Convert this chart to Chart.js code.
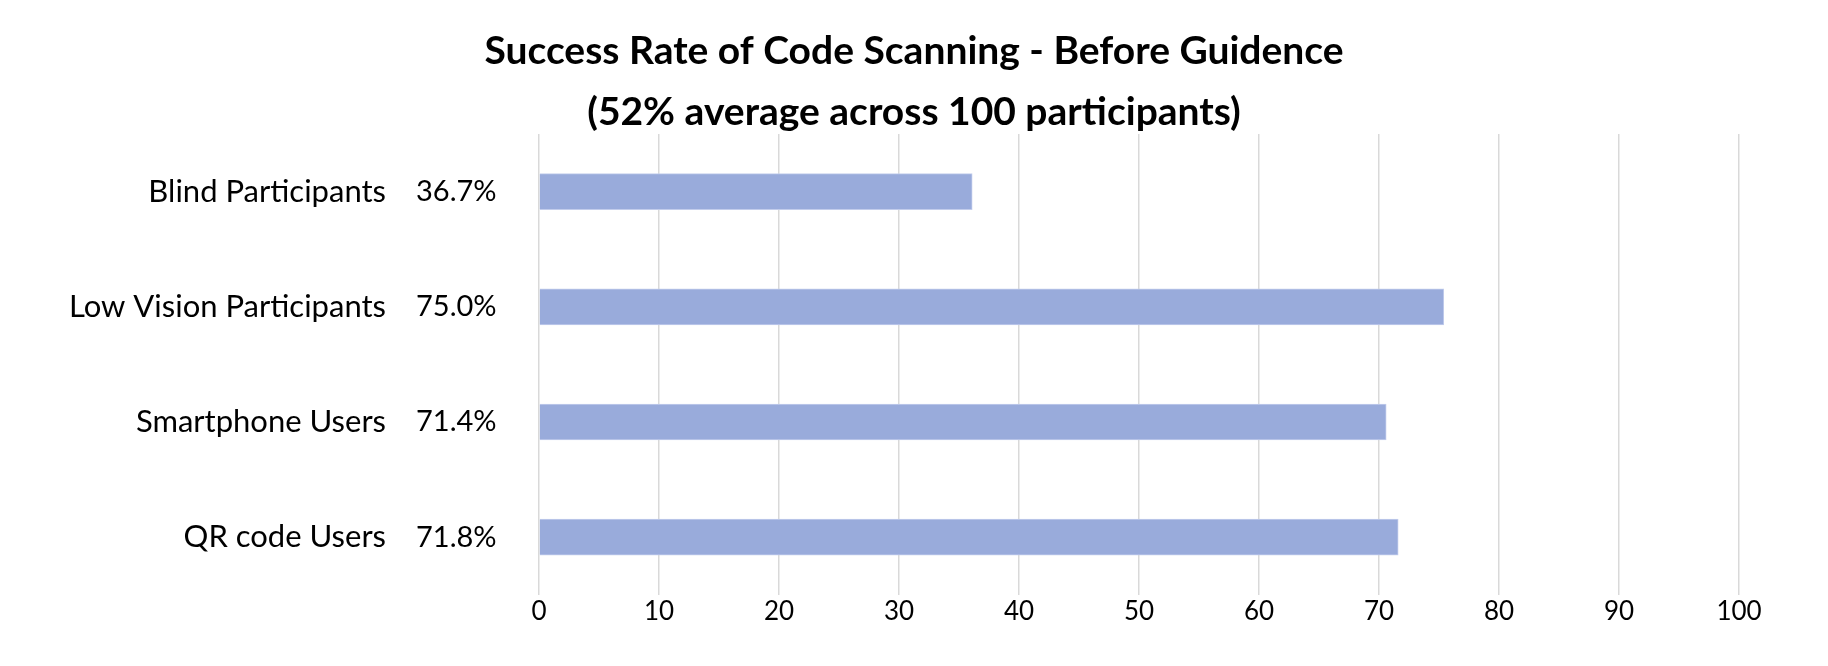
<!DOCTYPE html>
<html>
<head>
<meta charset="utf-8">
<script src="https://cdn.jsdelivr.net/npm/chart.js@4"></script>
<style>
    html, body { margin: 0; padding: 0; background: #ffffff; }
    #wrap { width: 1828px; height: 666px; }
</style>
</head>
<body>
<div id="wrap"><canvas id="barChart" width="1828" height="666"></canvas></div>
<script>
// Chart data
const groups = ["Blind Participants", "Low Vision Participants", "Smartphone Users", "QR code Users"];
const rateLabels = ["36.7%", "75.0%", "71.4%", "71.8%"];
const successRates = [36.1, 75.4, 70.6, 71.6];
const titleLines = ["Success Rate of Code Scanning - Before Guidence", "(52% average across 100 participants)"];

const fontFamily = "Lato, 'Noto Sans', sans-serif";

const ctx = document.getElementById("barChart").getContext("2d");

new Chart(ctx, {
    type: "bar",
    data: {
        labels: groups,
        datasets: [
            {
                label: "Success rate",
                data: successRates,
                backgroundColor: "#99abdb",
                borderColor: "#c3cdec",
                borderWidth: 1,
                barThickness: 36,
                yAxisID: "y",
            },
        ],
    },
    options: {
        indexAxis: "y",
        responsive: false,
        animation: false,
        devicePixelRatio: 1,
        layout: {
            padding: { left: 0, right: 0, top: 0, bottom: 37 },
        },
        plugins: {
            legend: { display: false },
            tooltip: { enabled: false },
            title: {
                display: true,
                text: titleLines,
                color: "#000000",
                font: { family: fontFamily, size: 39, weight: "bold", lineHeight: 1.564 },
                padding: { top: 21, bottom: -9 },
            },
        },
        scales: {
            x: {
                min: 0,
                max: 100,
                border: { display: false },
                grid: { color: "#d9d9d9", lineWidth: 1.5, drawTicks: false },
                ticks: {
                    stepSize: 10,
                    color: "#000000",
                    padding: 1.5,
                    font: { family: fontFamily, size: 26 },
                },
            },
            // category names, outermost column
            y: {
                type: "category",
                weight: 1,
                offset: true,
                border: { display: false },
                grid: { display: false, drawTicks: false },
                ticks: {
                    color: "#000000",
                    padding: 30,
                    font: { family: fontFamily, size: 31 },
                },
                afterFit: (scale) => { scale.width = 416; },
            },
            // percentage column next to the bars
            y2: {
                type: "category",
                axis: "y",
                position: "left",
                weight: 0,
                offset: true,
                labels: rateLabels,
                border: { display: false },
                grid: { display: false, drawTicks: false },
                ticks: {
                    color: "#000000",
                    crossAlign: "far",
                    font: { family: fontFamily, size: 29 },
                },
                afterFit: (scale) => { scale.width = 123; },
            },
            // empty right margin so the title stays centred on the page
            yRight: {
                type: "category",
                axis: "y",
                position: "right",
                offset: true,
                border: { display: false },
                grid: { display: false, drawTicks: false },
                ticks: { display: false },
                afterFit: (scale) => { scale.width = 89; },
            },
        },
    },
});
</script>
</body>
</html>
